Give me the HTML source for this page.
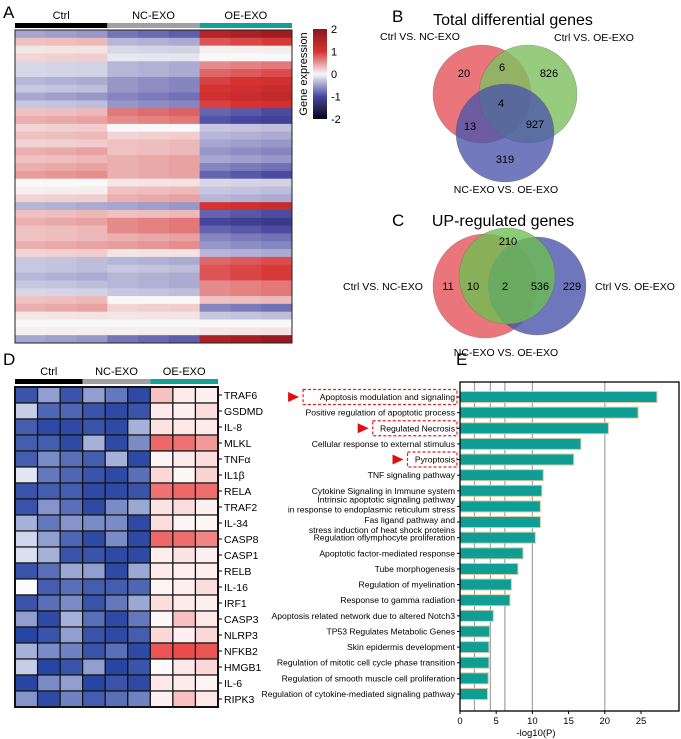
<!DOCTYPE html>
<html><head><meta charset="utf-8"><style>
body{margin:0;background:#fff}
svg{display:block;font-family:"Liberation Sans",Arial,sans-serif}
</style></head><body>
<svg id="fig" width="681" height="739" viewBox="0 0 681 739">
<g id="A"></g>
<g id="BC"></g>
<g id="D"></g>
<g id="E"></g>
</svg>
<script>
// ---- Panel A data ----
const aGroups=["Ctrl","NC-EXO","OE-EXO"];
const aRows=[[-0.5,-0.8,1.6],[0.3,-0.4,0.9],[0.1,-0.2,0.05],[0.2,-0.1,0.0],[-0.2,-0.4,0.6],[-0.2,-0.4,0.8],[-0.4,-0.6,1.0],[-0.3,-0.6,1.1],[-0.5,-0.7,1.2],[-0.3,-0.6,1.0],
[0.3,0.7,-0.9],[0.4,0.6,-1.0],[0.2,0.0,-0.3],[0.3,0.2,-0.4],[0.2,0.3,-0.5],[0.4,0.3,-0.6],[0.3,0.4,-0.5],[0.4,0.4,-0.7],[0.5,0.4,-0.9],[0.0,0.1,-0.2],
[0.05,0.3,-0.3],[0.2,0.4,-0.4],[-0.4,-0.5,1.1],[0.3,0.3,-0.9],[0.4,0.6,-1.1],[0.3,0.6,-0.9],[0.3,0.4,-0.7],[0.4,0.5,-0.6],[0.2,0.1,-0.4],[-0.3,-0.4,0.8],
[-0.3,-0.3,0.9],[-0.4,-0.4,0.9],[-0.3,-0.4,0.6],[-0.2,-0.3,0.6],[0.3,0.0,0.3],[0.4,0.2,-0.7],[0.1,0.1,-0.3],[0.0,0.0,0.0],[0.05,0.05,0.1],[-0.5,-0.8,1.7]];
const aTicks=[2,1,0,-1,-2];
// ---- Panel D data ----
const dGenes=["TRAF6","GSDMD","IL-8","MLKL","TNFα","IL1β","RELA","TRAF2","IL-34","CASP8","CASP1","RELB","IL-16","IRF1","CASP3","NLRP3","NFKB2","HMGB1","IL-6","RIPK3"];
const dBlue=[[0.9,0.5,0.9,0.5,0.7,0.95],[0.25,0.8,0.8,0.9,0.95,0.9],[0.85,0.95,0.95,0.9,0.95,0.4],[0.85,0.85,0.95,0.4,0.95,0.6],[0.85,0.6,0.75,0.85,0.4,0.95],[0.12,0.7,0.8,0.9,0.95,0.75],[0.9,0.85,0.85,0.95,0.95,0.9],[0.9,0.55,0.75,0.95,0.6,0.45],[0.4,0.7,0.55,0.6,0.6,0.95],[0.2,0.5,0.8,0.95,0.6,0.95],
[0.15,0.4,0.9,0.9,0.95,0.95],[0.9,0.75,0.45,0.5,0.95,0.45],[0.0,0.85,0.75,0.85,0.85,0.8],[0.9,0.75,0.6,0.9,0.7,0.45],[0.5,0.95,0.4,0.75,0.95,0.7],[0.98,0.9,0.5,0.9,0.95,0.85],[0.4,0.6,0.65,0.9,0.75,0.95],[0.25,0.98,0.9,0.5,0.98,0.9],[0.98,0.6,0.5,0.98,0.9,0.95],[0.55,0.95,0.65,0.85,0.75,0.65]];
const dRed=[[0.3,0.08,0.05],[0.08,0.05,0.15],[0.12,0.1,0.08],[0.75,0.7,0.5],[0.03,0.08,0.15],[0.18,0.02,0.2],[0.7,0.75,0.72],[0.12,0.15,0.05],[0.15,0.03,0.02],[0.75,0.72,0.6],
[0.06,0.12,0.05],[0.08,0.06,0.06],[0.03,0.05,0.15],[0.15,0.08,0.05],[0.02,0.3,0.1],[0.18,0.05,0.18],[0.85,0.9,0.85],[0.0,0.1,0.18],[0.1,0.08,0.03],[0.05,0.3,0.1]];
// ---- Panel E data ----
const eTerms=[["Apoptosis modulation and signaling"],["Positive regulation of apoptotic process"],["Regulated Necrosis"],["Cellular response to external stimulus"],["Pyroptosis"],["TNF signaling pathway"],["Cytokine Signaling in Immune system"],["Intrinsic apoptotic signaling pathway","in response to endoplasmic reticulum stress"],["Fas ligand pathway and","stress induction of heat shock proteins"],["Regulation oflymphocyte proliferation"],["Apoptotic factor-mediated response"],["Tube morphogenesis"],["Regulation of myelination"],["Response to gamma radiation"],["Apoptosis related network due to altered Notch3"],["TP53 Regulates Metabolic Genes"],["Skin epidermis development"],["Regulation of mitotic cell cycle phase transition"],["Regulation of smooth muscle cell proliferation"],["Regulation of cytokine-mediated signaling pathway"]];
const eValues=[27.2,24.6,20.5,16.7,15.7,11.5,11.3,11.1,11.1,10.4,8.7,8.0,7.1,6.9,4.6,4.1,4.0,4.0,3.9,3.8];
const eHighlighted=[0,2,4];
const eTicks=[0,5,10,15,20,25];
const eGrid=[2,4.2,6.2,10,20];

const NS="http://www.w3.org/2000/svg";
function el(tag,attrs,parent,txt){const e=document.createElementNS(NS,tag);for(const k in attrs)e.setAttribute(k,attrs[k]);if(txt!==undefined)e.textContent=txt;parent.appendChild(e);return e;}
function mix(c1,c2,t){return "rgb("+c1.map((v,i)=>Math.round(v+(c2[i]-v)*t)).join(",")+")";}
function divColor(v){const W=[248,248,248],R=[214,50,50],DR=[140,22,28],B=[70,70,160],K=[5,5,20];
 if(v>=0)return v<=1?mix(W,R,v):mix(R,DR,Math.min(v-1,1));
 const a=-v;return a<=1?mix(W,B,a):mix(B,K,Math.min(a-1,1));}

// ===== Panel A =====
(function(){const g=document.getElementById('A');
 let t=el('text',{x:3,y:18,'font-size':17},g,'A');
 const x0=15,x1=292,y0=30,y1=343,gw=(x1-x0)/3,rh=(y1-y0)/aRows.length;
 const gc=["#000","#a0a0a0","#13a095"];
 aGroups.forEach((n,i)=>{let r=el('rect',{x:x0+i*gw,y:23,width:gw,height:5,fill:gc[i]},g);
  let tt=el('text',{x:x0+i*gw+gw/2,y:19,'font-size':11,'text-anchor':'middle'},g,n);});
 aRows.forEach((row,ri)=>{row.forEach((v,gi)=>{for(let c=0;c<3;c++){const vv=v*(1+(c-1)*0.08);
  let r=el('rect',{x:x0+gi*gw+c*gw/3,y:y0+ri*rh,width:gw/3+0.5,height:rh+0.5,fill:divColor(vv)},g);}});});
 let b=el('rect',{x:x0,y:y0,width:x1-x0,height:y1-y0,fill:'none',stroke:'#222','stroke-width':1},g);
 const cy0=29,cy1=119;
 const grad=el('linearGradient',{id:'cbg',x1:0,y1:0,x2:0,y2:1},el('defs',{},g));
 aTicks.forEach((v,i)=>el('stop',{offset:i/(aTicks.length-1),'stop-color':divColor(v)},grad));
 let cb=el('rect',{x:313,y:cy0,width:14,height:cy1-cy0,fill:'url(#cbg)'},g);
 aTicks.forEach((v,i)=>{let tt=el('text',{x:331,y:cy0+i*(cy1-cy0)/(aTicks.length-1)+4,'font-size':11},g,String(v));});
 let lt=el('text',{x:0,y:0,'font-size':11,'text-anchor':'middle',transform:'translate(307,74) rotate(-90)'},g,'Gene expression');
})();

// ===== Panels B & C =====
(function(){const g=document.getElementById('BC');
 function txt(x,y,s,fs,name,anchor){let t=el('text',{x:x,y:y,'font-size':fs,'text-anchor':anchor||'middle'},g,s);}
 function circ(cx,cy,r,fill,op,name){let c=el('circle',{cx:cx,cy:cy,r:r,fill:fill,'fill-opacity':op,stroke:'#666','stroke-opacity':0.5,'stroke-width':0.6},g);}
 txt(392,22,'B',17,'panel-label-b','start');
 txt(513,25,'Total differential genes',16,'venn-b-title');
 txt(420,40,'Ctrl  VS. NC-EXO',10.5,'venn-b-set-label');
 txt(594,41,'Ctrl  VS. OE-EXO',10.5,'venn-b-set-label');
 txt(506,193,'NC-EXO  VS. OE-EXO',10.5,'venn-b-set-label');
 circ(482,94,49,'#e5585f',0.82,'venn-b-ctrl-nc');
 circ(528,94,49,'#80c060',0.82,'venn-b-ctrl-oe');
 circ(505,133,49,'#4a55aa',0.78,'venn-b-nc-oe');
 [[464,77,'20'],[502,71,'6'],[549,77,'826'],[501,107,'4'],[470,130,'13'],[535,128,'927'],[505,163,'319']].forEach(d=>txt(d[0],d[1],d[2],11,'venn-b-count'));
 txt(392,226,'C',17,'panel-label-c','start');
 txt(503,226,'UP-regulated genes',16,'venn-c-title');
 txt(383,290,'Ctrl  VS. NC-EXO',10.5,'venn-c-set-label');
 txt(635,290,'Ctrl  VS. OE-EXO',10.5,'venn-c-set-label');
 txt(506,356,'NC-EXO  VS. OE-EXO',10.5,'venn-c-set-label');
 circ(485,286,52,'#e5585f',0.82,'venn-c-ctrl-nc');
 circ(537,286,49,'#4a55aa',0.8,'venn-c-ctrl-oe');
 circ(507,276,48,'#6cc050',0.78,'venn-c-nc-oe');
 [[508,245,'210'],[448,290,'11'],[473,290,'10'],[505,290,'2'],[540,290,'536'],[572,290,'229']].forEach(d=>txt(d[0],d[1],d[2],11,'venn-c-count'));
})();

// ===== Panel D =====
(function(){const g=document.getElementById('D');
 let t=el('text',{x:3,y:365,'font-size':17},g,'D');
 const x0=15,x1=218,y0=387,y1=707,cw=(x1-x0)/9,rh=(y1-y0)/dGenes.length;
 const gc=["#000","#a0a0a0","#13a095"];
 ["Ctrl","NC-EXO","OE-EXO"].forEach((n,i)=>{let r=el('rect',{x:x0+i*3*cw,y:379,width:3*cw,height:5,fill:gc[i]},g);
  let tt=el('text',{x:x0+i*3*cw+1.5*cw,y:375,'font-size':11,'text-anchor':'middle'},g,n);});
 const W=[252,252,255],BL=[35,65,160],RD=[232,55,55],RW=[255,250,250];
 dGenes.forEach((gname,ri)=>{
  dBlue[ri].forEach((v,ci)=>{let r=el('rect',{x:x0+ci*cw,y:y0+ri*rh,width:cw,height:rh,fill:mix(W,BL,v),stroke:'#111','stroke-width':1.2},g);});
  dRed[ri].forEach((v,ci)=>{let r=el('rect',{x:x0+(ci+6)*cw,y:y0+ri*rh,width:cw,height:rh,fill:mix(RW,RD,v),stroke:'#111','stroke-width':1.2},g);});
  const cy=y0+ri*rh+rh/2;
  let tk=el('line',{x1:x1,x2:x1+4,y1:cy,y2:cy,stroke:'#000'},g);
  let tt=el('text',{x:x1+6,y:cy+4,'font-size':10.5},g,gname);
 });
 let b=el('rect',{x:x0,y:y0,width:x1-x0,height:y1-y0,fill:'none',stroke:'#111','stroke-width':2},g);
})();

// ===== Panel E =====
(function(){const g=document.getElementById('E');
 let t=el('text',{x:456,y:365,'font-size':17},g,'E');
 const px0=460,px1=679,py0=382,py1=711,scale=(641-460)/25;
 const X=v=>px0+v*scale;
 const step=(694-397)/(eValues.length-1),Y=i=>397+i*step;
 eGrid.forEach(v=>{let l=el('line',{x1:X(v),x2:X(v),y1:py0,y2:py1,stroke:'#a8a8a8','stroke-width':1.3},g);});
 let multiCount=0;
 eValues.forEach((v,i)=>{let r=el('rect',{x:px0,y:Y(i)-5.5,width:X(v)-px0,height:11,fill:'#0f9e93',stroke:'#d9c9a8','stroke-width':1},g);
  let tk=el('line',{x1:px0-3,x2:px0,y1:Y(i),y2:Y(i),stroke:'#000'},g);
  const lines=eTerms[i];
  let shift=0;
  if(lines.length>1){shift=multiCount===0?-2:3;multiCount++;}
  lines.forEach((s,li)=>{const yy=Y(i)+3+shift+(li-(lines.length-1)/2)*10;
   let tt=el('text',{x:455,y:yy,'font-size':8.6,'text-anchor':'end'},g,s);});
 });
 eHighlighted.forEach(i=>{const w=eTerms[i][0].length*4.35+6;
  let r=el('rect',{x:457-w,y:Y(i)-7.5,width:w,height:15,fill:'none',stroke:'#e02020','stroke-width':1.2,'stroke-dasharray':'3,2'},g);
  const ax=457-w-4;let p=el('polygon',{points:(ax-11)+','+(Y(i)-5)+' '+(ax)+','+Y(i)+' '+(ax-11)+','+(Y(i)+5),fill:'#e01010'},g);});
 let b=el('rect',{x:px0,y:py0,width:px1-px0,height:py1-py0,fill:'none',stroke:'#000','stroke-width':1.3},g);
 eTicks.forEach(v=>{let l=el('line',{x1:X(v),x2:X(v),y1:py1,y2:py1+3,stroke:'#000'},g);
  let tt=el('text',{x:X(v),y:py1+13,'font-size':9.5,'text-anchor':'middle'},g,String(v));});
 let xt=el('text',{x:X(10.5),y:py1+25,'font-size':9.5,'text-anchor':'middle'},g,'-log10(P)');
})();
</script>
</body></html>
